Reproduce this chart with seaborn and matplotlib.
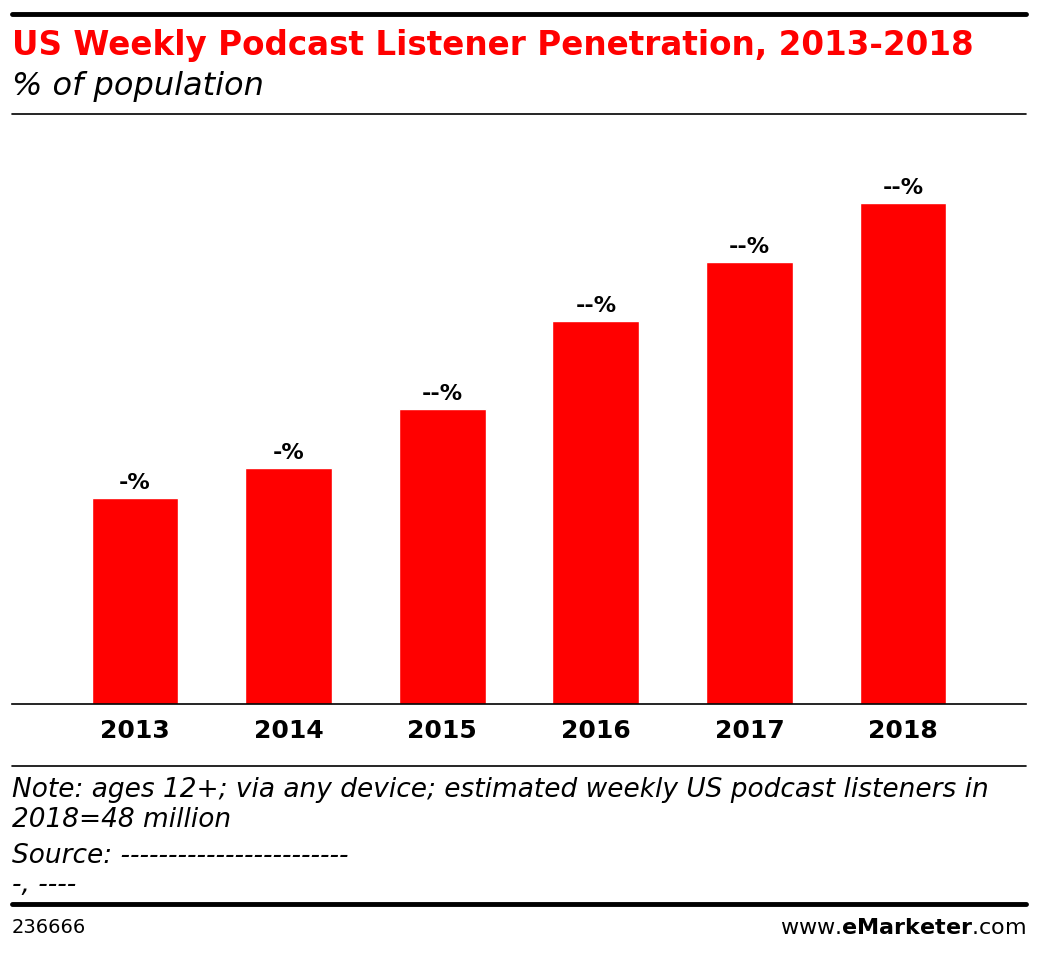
import matplotlib
matplotlib.use("Agg")
import matplotlib.pyplot as plt
import seaborn as sns
import pandas as pd
from matplotlib.lines import Line2D

years = ["2013", "2014", "2015", "2016", "2017", "2018"]
values = [7.0, 8.0, 10.0, 13.0, 15.0, 17.0]
bar_labels = ["-%", "-%", "--%", "--%", "--%", "--%"]

sns.set_style("white")
plt.rcParams["font.family"] = ["DejaVu Sans"]
plt.rcParams["text.color"] = "black"
plt.rcParams["xtick.color"] = "black"

W, H = 1038, 954
fig = plt.figure(figsize=(W / 100, H / 100), dpi=100)
ax = fig.add_axes([12 / W, 1 - 705 / H, (1026 - 12) / W, (705 - 140) / H])

df = pd.DataFrame({"year": years, "value": values})
sns.barplot(data=df, x="year", y="value", color="#ff0000", saturation=1,
            width=0.565, ax=ax)
ax.set_xlim(-0.8, 5.8)
ax.set_ylim(0, 19.17)
for i, (v, lab) in enumerate(zip(values, bar_labels)):
    ax.text(i, v + 0.2, lab, ha="center", va="bottom", fontsize=16, fontweight="bold")
ax.set_yticks([])
ax.set_xlabel("")
ax.set_ylabel("")
ax.tick_params(axis="x", length=0, labelsize=18, pad=10, labelcolor="black")
for t in ax.get_xticklabels():
    t.set_fontweight("bold")
for s in ["top", "left", "right"]:
    ax.spines[s].set_visible(False)
ax.spines["bottom"].set_color("black")
ax.spines["bottom"].set_linewidth(1.2)

def hline(y, lw):
    fig.add_artist(Line2D([12 / W, 1026 / W], [1 - y / H, 1 - y / H], color="black", lw=lw))

hline(15, 3.5)
hline(115, 1.2)
hline(767, 1.2)
hline(905, 3.5)

it = dict(fontsize=19, style="italic", va="center")
fig.text(12 / W, 1 - 45 / H, "US Weekly Podcast Listener Penetration, 2013-2018",
         color="#ff0000", fontsize=23.5, fontweight="bold", va="center")
fig.text(12 / W, 1 - 87 / H, "% of population", fontsize=23, style="italic", va="center")
fig.text(12 / W, 1 - 790 / H, "Note: ages 12+; via any device; estimated weekly US podcast listeners in", **it)
fig.text(12 / W, 1 - 820 / H, "2018=48 million", **it)
fig.text(12 / W, 1 - 856 / H, "Source: ------------------------", **it)
fig.text(12 / W, 1 - 885 / H, "-, ----", **it)
fig.text(12 / W, 1 - 928 / H, "236666", fontsize=14, va="center")
fig.text(1026 / W, 1 - 928 / H, r"www.$\bf{eMarketer}$.com", fontsize=16, va="center", ha="right")

fig.savefig("out.png", dpi=100)
